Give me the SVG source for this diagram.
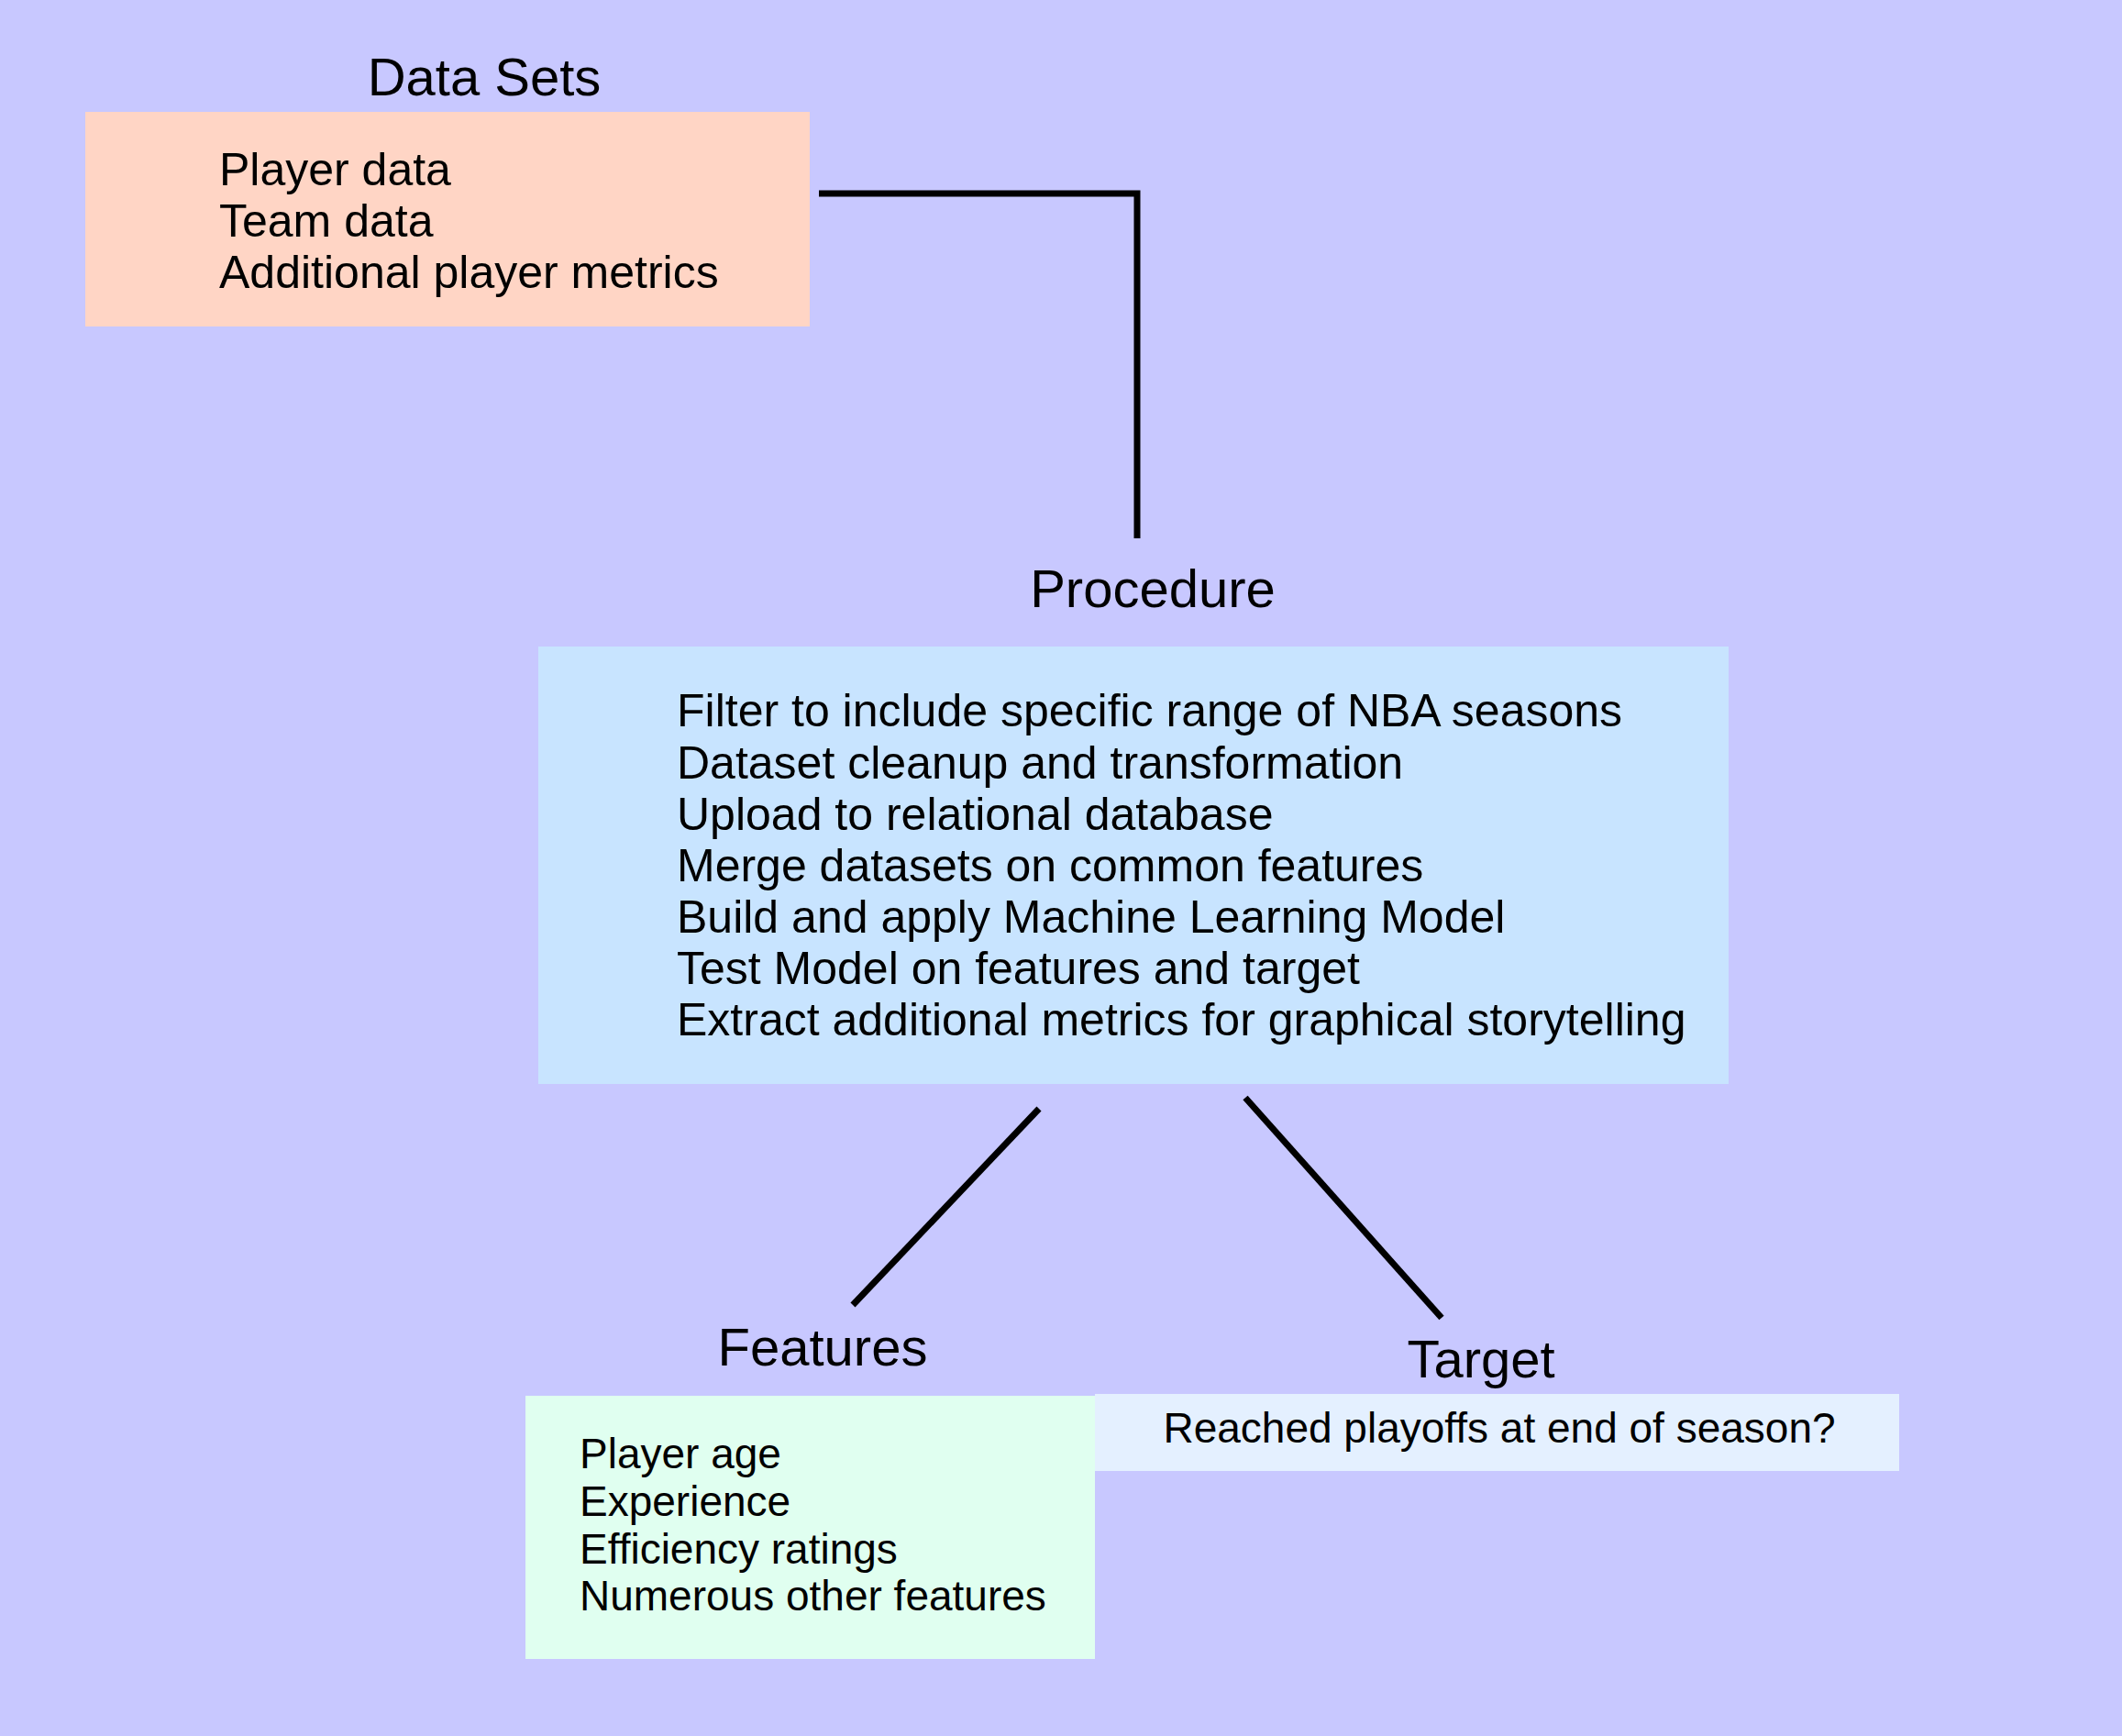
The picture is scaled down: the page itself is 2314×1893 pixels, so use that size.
<svg xmlns="http://www.w3.org/2000/svg" width="2314" height="1893" viewBox="0 0 2314 1893">
<style>
text{font-family:"Liberation Sans",Arial,sans-serif;fill:#000}
.t{font-size:58px;text-anchor:middle}
.i{font-size:50px}
.s{font-size:46px}
.c{fill:none;stroke:#000;stroke-width:7}
</style>
<rect width="2314" height="1893" fill="#c8c8ff"/>
<g id="datasets">
<rect x="93" y="122" width="790" height="234" fill="#ffd5c5"/>
<text class="t" x="528" y="104">Data Sets</text>
<text class="i" x="239" y="202">Player data</text>
<text class="i" x="239" y="258">Team data</text>
<text class="i" x="239" y="314">Additional player metrics</text>
</g>
<g id="procedure">
<rect x="587" y="705" width="1298" height="477" fill="#c8e4ff"/>
<text class="t" x="1257" y="662">Procedure</text>
<text class="i" x="738" y="792">Filter to include specific range of NBA seasons</text>
<text class="i" x="738" y="849">Dataset cleanup and transformation</text>
<text class="i" x="738" y="905">Upload to relational database</text>
<text class="i" x="738" y="961">Merge datasets on common features</text>
<text class="i" x="738" y="1017">Build and apply Machine Learning Model</text>
<text class="i" x="738" y="1073">Test Model on features and target</text>
<text class="i" x="738" y="1129">Extract additional metrics for graphical storytelling</text>
</g>
<g id="features">
<rect x="573" y="1522" width="621" height="287" fill="#e0fff0"/>
<text class="t" x="897" y="1489">Features</text>
<text class="s" x="632" y="1601">Player age</text>
<text class="s" x="632" y="1653">Experience</text>
<text class="s" x="632" y="1705">Efficiency ratings</text>
<text class="s" x="632" y="1756">Numerous other features</text>
</g>
<g id="target">
<rect x="1194" y="1520" width="877" height="84" fill="#e4f0ff"/>
<text class="t" x="1615" y="1502">Target</text>
<text class="s" x="1635" y="1573" text-anchor="middle">Reached playoffs at end of season?</text>
</g>
<g id="connectors">
<polyline class="c" points="893,211 1240,211 1240,587"/>
<line class="c" x1="1133" y1="1209" x2="930" y2="1423"/>
<line class="c" x1="1358" y1="1197" x2="1572" y2="1437"/>
</g>
</svg>
